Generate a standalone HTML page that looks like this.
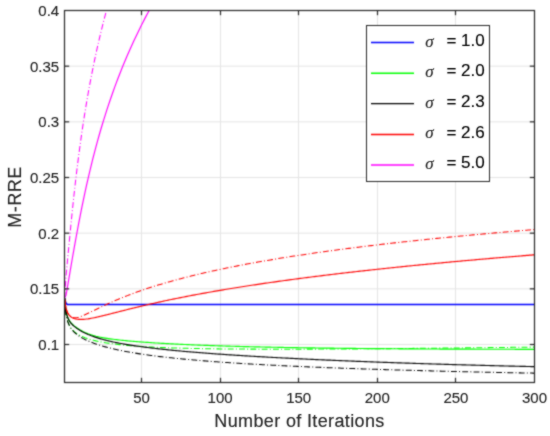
<!DOCTYPE html>
<html><head><meta charset="utf-8"><title>M-RRE vs Number of Iterations</title><style>html,body{margin:0;padding:0;background:#fff;width:550px;height:436px;overflow:hidden}svg{display:block}</style></head><body>
<svg width="550" height="436" viewBox="0 0 550 436"><defs><clipPath id="ax"><rect x="64.5" y="10.5" width="470.0" height="372.0"/></clipPath><filter id="soft" x="0" y="0" width="550" height="436" filterUnits="userSpaceOnUse" color-interpolation-filters="sRGB"><feConvolveMatrix order="3" kernelMatrix="1 2 1 2 10 2 1 2 1" divisor="22" edgeMode="duplicate"/></filter><filter id="softt" x="0" y="0" width="550" height="436" filterUnits="userSpaceOnUse" color-interpolation-filters="sRGB"><feConvolveMatrix order="3" kernelMatrix="1 2 1 2 16 2 1 2 1" divisor="28" edgeMode="duplicate"/></filter></defs>
<g filter="url(#soft)"><rect x="0" y="0" width="550" height="436" fill="#ffffff"/>
<g stroke="#e4e4e4" stroke-width="1"><line x1="141.50" y1="10.5" x2="141.50" y2="382.5"/><line x1="220.50" y1="10.5" x2="220.50" y2="382.5"/><line x1="298.50" y1="10.5" x2="298.50" y2="382.5"/><line x1="377.50" y1="10.5" x2="377.50" y2="382.5"/><line x1="455.50" y1="10.5" x2="455.50" y2="382.5"/><line x1="64.5" y1="344.50" x2="534.5" y2="344.50"/><line x1="64.5" y1="288.83" x2="534.5" y2="288.83"/><line x1="64.5" y1="233.17" x2="534.5" y2="233.17"/><line x1="64.5" y1="177.50" x2="534.5" y2="177.50"/><line x1="64.5" y1="121.83" x2="534.5" y2="121.83"/><line x1="64.5" y1="66.17" x2="534.5" y2="66.17"/></g>
<g clip-path="url(#ax)" stroke-linejoin="round"><path d="M64.50,298.00 66.07,303.60 67.64,304.50 69.22,304.50 70.79,304.50 72.36,304.50 73.93,304.50 75.50,304.50 77.08,304.50 78.65,304.50 80.22,304.50 81.79,304.50 83.36,304.50 84.93,304.50 86.51,304.50 88.08,304.50 89.65,304.50 91.22,304.50 92.79,304.50 94.37,304.50 95.94,304.50 97.51,304.50 99.08,304.50 100.65,304.50 102.23,304.50 103.80,304.50 105.37,304.50 106.94,304.50 108.51,304.50 110.09,304.50 111.66,304.50 113.23,304.50 114.80,304.50 116.37,304.50 117.94,304.50 119.52,304.50 121.09,304.50 122.66,304.50 124.23,304.50 125.80,304.50 127.38,304.50 128.95,304.50 130.52,304.50 132.09,304.50 133.66,304.50 135.24,304.50 136.81,304.50 138.38,304.50 139.95,304.50 141.52,304.50 143.10,304.50 144.67,304.50 146.24,304.50 147.81,304.50 149.38,304.50 150.95,304.50 152.53,304.50 154.10,304.50 155.67,304.50 157.24,304.50 158.81,304.50 160.39,304.50 161.96,304.50 163.53,304.50 165.10,304.50 166.67,304.50 168.25,304.50 169.82,304.50 171.39,304.50 172.96,304.50 174.53,304.50 176.11,304.50 177.68,304.50 179.25,304.50 180.82,304.50 182.39,304.50 183.96,304.50 185.54,304.50 187.11,304.50 188.68,304.50 190.25,304.50 191.82,304.50 193.40,304.50 194.97,304.50 196.54,304.50 198.11,304.50 199.68,304.50 201.26,304.50 202.83,304.50 204.40,304.50 205.97,304.50 207.54,304.50 209.12,304.50 210.69,304.50 212.26,304.50 213.83,304.50 215.40,304.50 216.97,304.50 218.55,304.50 220.12,304.50 221.69,304.50 223.26,304.50 224.83,304.50 226.41,304.50 227.98,304.50 229.55,304.50 231.12,304.50 232.69,304.50 234.27,304.50 235.84,304.50 237.41,304.50 238.98,304.50 240.55,304.50 242.13,304.50 243.70,304.50 245.27,304.50 246.84,304.50 248.41,304.50 249.98,304.50 251.56,304.50 253.13,304.50 254.70,304.50 256.27,304.50 257.84,304.50 259.42,304.50 260.99,304.50 262.56,304.50 264.13,304.50 265.70,304.50 267.28,304.50 268.85,304.50 270.42,304.50 271.99,304.50 273.56,304.50 275.14,304.50 276.71,304.50 278.28,304.50 279.85,304.50 281.42,304.50 282.99,304.50 284.57,304.50 286.14,304.50 287.71,304.50 289.28,304.50 290.85,304.50 292.43,304.50 294.00,304.50 295.57,304.50 297.14,304.50 298.71,304.50 300.29,304.50 301.86,304.50 303.43,304.50 305.00,304.50 306.57,304.50 308.15,304.50 309.72,304.50 311.29,304.50 312.86,304.50 314.43,304.50 316.01,304.50 317.58,304.50 319.15,304.50 320.72,304.50 322.29,304.50 323.86,304.50 325.44,304.50 327.01,304.50 328.58,304.50 330.15,304.50 331.72,304.50 333.30,304.50 334.87,304.50 336.44,304.50 338.01,304.50 339.58,304.50 341.16,304.50 342.73,304.50 344.30,304.50 345.87,304.50 347.44,304.50 349.02,304.50 350.59,304.50 352.16,304.50 353.73,304.50 355.30,304.50 356.87,304.50 358.45,304.50 360.02,304.50 361.59,304.50 363.16,304.50 364.73,304.50 366.31,304.50 367.88,304.50 369.45,304.50 371.02,304.50 372.59,304.50 374.17,304.50 375.74,304.50 377.31,304.50 378.88,304.50 380.45,304.50 382.03,304.50 383.60,304.50 385.17,304.50 386.74,304.50 388.31,304.50 389.88,304.50 391.46,304.50 393.03,304.50 394.60,304.50 396.17,304.50 397.74,304.50 399.32,304.50 400.89,304.50 402.46,304.50 404.03,304.50 405.60,304.50 407.18,304.50 408.75,304.50 410.32,304.50 411.89,304.50 413.46,304.50 415.04,304.50 416.61,304.50 418.18,304.50 419.75,304.50 421.32,304.50 422.89,304.50 424.47,304.50 426.04,304.50 427.61,304.50 429.18,304.50 430.75,304.50 432.33,304.50 433.90,304.50 435.47,304.50 437.04,304.50 438.61,304.50 440.19,304.50 441.76,304.50 443.33,304.50 444.90,304.50 446.47,304.50 448.05,304.50 449.62,304.50 451.19,304.50 452.76,304.50 454.33,304.50 455.90,304.50 457.48,304.50 459.05,304.50 460.62,304.50 462.19,304.50 463.76,304.50 465.34,304.50 466.91,304.50 468.48,304.50 470.05,304.50 471.62,304.50 473.20,304.50 474.77,304.50 476.34,304.50 477.91,304.50 479.48,304.50 481.06,304.50 482.63,304.50 484.20,304.50 485.77,304.50 487.34,304.50 488.91,304.50 490.49,304.50 492.06,304.50 493.63,304.50 495.20,304.50 496.77,304.50 498.35,304.50 499.92,304.50 501.49,304.50 503.06,304.50 504.63,304.50 506.21,304.50 507.78,304.50 509.35,304.50 510.92,304.50 512.49,304.50 514.07,304.50 515.64,304.50 517.21,304.50 518.78,304.50 520.35,304.50 521.92,304.50 523.50,304.50 525.07,304.50 526.64,304.50 528.21,304.50 529.78,304.50 531.36,304.50 532.93,304.50 534.50,304.50" fill="none" stroke="#0000ff" stroke-width="1.5"/>
<path d="M64.50,298.00 66.07,303.60 67.64,304.50 69.22,304.50 70.79,304.50 72.36,304.50 73.93,304.50 75.50,304.50 77.08,304.50 78.65,304.50 80.22,304.50 81.79,304.50 83.36,304.50 84.93,304.50 86.51,304.50 88.08,304.50 89.65,304.50 91.22,304.50 92.79,304.50 94.37,304.50 95.94,304.50 97.51,304.50 99.08,304.50 100.65,304.50 102.23,304.50 103.80,304.50 105.37,304.50 106.94,304.50 108.51,304.50 110.09,304.50 111.66,304.50 113.23,304.50 114.80,304.50 116.37,304.50 117.94,304.50 119.52,304.50 121.09,304.50 122.66,304.50 124.23,304.50 125.80,304.50 127.38,304.50 128.95,304.50 130.52,304.50 132.09,304.50 133.66,304.50 135.24,304.50 136.81,304.50 138.38,304.50 139.95,304.50 141.52,304.50 143.10,304.50 144.67,304.50 146.24,304.50 147.81,304.50 149.38,304.50 150.95,304.50 152.53,304.50 154.10,304.50 155.67,304.50 157.24,304.50 158.81,304.50 160.39,304.50 161.96,304.50 163.53,304.50 165.10,304.50 166.67,304.50 168.25,304.50 169.82,304.50 171.39,304.50 172.96,304.50 174.53,304.50 176.11,304.50 177.68,304.50 179.25,304.50 180.82,304.50 182.39,304.50 183.96,304.50 185.54,304.50 187.11,304.50 188.68,304.50 190.25,304.50 191.82,304.50 193.40,304.50 194.97,304.50 196.54,304.50 198.11,304.50 199.68,304.50 201.26,304.50 202.83,304.50 204.40,304.50 205.97,304.50 207.54,304.50 209.12,304.50 210.69,304.50 212.26,304.50 213.83,304.50 215.40,304.50 216.97,304.50 218.55,304.50 220.12,304.50 221.69,304.50 223.26,304.50 224.83,304.50 226.41,304.50 227.98,304.50 229.55,304.50 231.12,304.50 232.69,304.50 234.27,304.50 235.84,304.50 237.41,304.50 238.98,304.50 240.55,304.50 242.13,304.50 243.70,304.50 245.27,304.50 246.84,304.50 248.41,304.50 249.98,304.50 251.56,304.50 253.13,304.50 254.70,304.50 256.27,304.50 257.84,304.50 259.42,304.50 260.99,304.50 262.56,304.50 264.13,304.50 265.70,304.50 267.28,304.50 268.85,304.50 270.42,304.50 271.99,304.50 273.56,304.50 275.14,304.50 276.71,304.50 278.28,304.50 279.85,304.50 281.42,304.50 282.99,304.50 284.57,304.50 286.14,304.50 287.71,304.50 289.28,304.50 290.85,304.50 292.43,304.50 294.00,304.50 295.57,304.50 297.14,304.50 298.71,304.50 300.29,304.50 301.86,304.50 303.43,304.50 305.00,304.50 306.57,304.50 308.15,304.50 309.72,304.50 311.29,304.50 312.86,304.50 314.43,304.50 316.01,304.50 317.58,304.50 319.15,304.50 320.72,304.50 322.29,304.50 323.86,304.50 325.44,304.50 327.01,304.50 328.58,304.50 330.15,304.50 331.72,304.50 333.30,304.50 334.87,304.50 336.44,304.50 338.01,304.50 339.58,304.50 341.16,304.50 342.73,304.50 344.30,304.50 345.87,304.50 347.44,304.50 349.02,304.50 350.59,304.50 352.16,304.50 353.73,304.50 355.30,304.50 356.87,304.50 358.45,304.50 360.02,304.50 361.59,304.50 363.16,304.50 364.73,304.50 366.31,304.50 367.88,304.50 369.45,304.50 371.02,304.50 372.59,304.50 374.17,304.50 375.74,304.50 377.31,304.50 378.88,304.50 380.45,304.50 382.03,304.50 383.60,304.50 385.17,304.50 386.74,304.50 388.31,304.50 389.88,304.50 391.46,304.50 393.03,304.50 394.60,304.50 396.17,304.50 397.74,304.50 399.32,304.50 400.89,304.50 402.46,304.50 404.03,304.50 405.60,304.50 407.18,304.50 408.75,304.50 410.32,304.50 411.89,304.50 413.46,304.50 415.04,304.50 416.61,304.50 418.18,304.50 419.75,304.50 421.32,304.50 422.89,304.50 424.47,304.50 426.04,304.50 427.61,304.50 429.18,304.50 430.75,304.50 432.33,304.50 433.90,304.50 435.47,304.50 437.04,304.50 438.61,304.50 440.19,304.50 441.76,304.50 443.33,304.50 444.90,304.50 446.47,304.50 448.05,304.50 449.62,304.50 451.19,304.50 452.76,304.50 454.33,304.50 455.90,304.50 457.48,304.50 459.05,304.50 460.62,304.50 462.19,304.50 463.76,304.50 465.34,304.50 466.91,304.50 468.48,304.50 470.05,304.50 471.62,304.50 473.20,304.50 474.77,304.50 476.34,304.50 477.91,304.50 479.48,304.50 481.06,304.50 482.63,304.50 484.20,304.50 485.77,304.50 487.34,304.50 488.91,304.50 490.49,304.50 492.06,304.50 493.63,304.50 495.20,304.50 496.77,304.50 498.35,304.50 499.92,304.50 501.49,304.50 503.06,304.50 504.63,304.50 506.21,304.50 507.78,304.50 509.35,304.50 510.92,304.50 512.49,304.50 514.07,304.50 515.64,304.50 517.21,304.50 518.78,304.50 520.35,304.50 521.92,304.50 523.50,304.50 525.07,304.50 526.64,304.50 528.21,304.50 529.78,304.50 531.36,304.50 532.93,304.50 534.50,304.50" fill="none" stroke="#0000ff" stroke-width="1.05" stroke-dasharray="5.9 2.2 1.0 2.2"/>
<path d="M64.50,298.00 66.07,311.99 67.64,317.37 69.22,320.43 70.79,322.54 72.36,324.20 73.93,325.60 75.50,326.84 77.08,327.98 78.65,329.03 80.22,329.99 81.79,330.87 83.36,331.68 84.93,332.42 86.51,333.10 88.08,333.73 89.65,334.31 91.22,334.84 92.79,335.33 94.37,335.78 95.94,336.20 97.51,336.58 99.08,336.94 100.65,337.27 102.23,337.58 103.80,337.86 105.37,338.13 106.94,338.39 108.51,338.63 110.09,338.86 111.66,339.08 113.23,339.29 114.80,339.48 116.37,339.67 117.94,339.86 119.52,340.03 121.09,340.20 122.66,340.36 124.23,340.52 125.80,340.67 127.38,340.82 128.95,340.96 130.52,341.10 132.09,341.23 133.66,341.37 135.24,341.50 136.81,341.62 138.38,341.75 139.95,341.87 141.52,341.98 143.10,342.10 144.67,342.21 146.24,342.32 147.81,342.43 149.38,342.54 150.95,342.65 152.53,342.75 154.10,342.85 155.67,342.95 157.24,343.05 158.81,343.15 160.39,343.24 161.96,343.33 163.53,343.42 165.10,343.51 166.67,343.60 168.25,343.69 169.82,343.77 171.39,343.86 172.96,343.94 174.53,344.02 176.11,344.10 177.68,344.18 179.25,344.25 180.82,344.33 182.39,344.40 183.96,344.48 185.54,344.55 187.11,344.62 188.68,344.69 190.25,344.76 191.82,344.83 193.40,344.89 194.97,344.96 196.54,345.02 198.11,345.08 199.68,345.15 201.26,345.21 202.83,345.27 204.40,345.33 205.97,345.39 207.54,345.44 209.12,345.50 210.69,345.56 212.26,345.61 213.83,345.66 215.40,345.72 216.97,345.77 218.55,345.82 220.12,345.87 221.69,345.92 223.26,345.97 224.83,346.02 226.41,346.07 227.98,346.12 229.55,346.16 231.12,346.21 232.69,346.26 234.27,346.30 235.84,346.35 237.41,346.39 238.98,346.43 240.55,346.47 242.13,346.52 243.70,346.56 245.27,346.60 246.84,346.64 248.41,346.68 249.98,346.72 251.56,346.75 253.13,346.79 254.70,346.83 256.27,346.87 257.84,346.90 259.42,346.94 260.99,346.97 262.56,347.01 264.13,347.04 265.70,347.08 267.28,347.11 268.85,347.14 270.42,347.18 271.99,347.21 273.56,347.24 275.14,347.27 276.71,347.30 278.28,347.33 279.85,347.36 281.42,347.39 282.99,347.42 284.57,347.45 286.14,347.48 287.71,347.51 289.28,347.54 290.85,347.56 292.43,347.59 294.00,347.62 295.57,347.65 297.14,347.67 298.71,347.70 300.29,347.72 301.86,347.75 303.43,347.77 305.00,347.80 306.57,347.82 308.15,347.85 309.72,347.87 311.29,347.89 312.86,347.92 314.43,347.94 316.01,347.96 317.58,347.98 319.15,348.00 320.72,348.03 322.29,348.05 323.86,348.07 325.44,348.09 327.01,348.11 328.58,348.13 330.15,348.15 331.72,348.17 333.30,348.19 334.87,348.21 336.44,348.23 338.01,348.25 339.58,348.26 341.16,348.28 342.73,348.30 344.30,348.32 345.87,348.34 347.44,348.35 349.02,348.37 350.59,348.39 352.16,348.40 353.73,348.42 355.30,348.44 356.87,348.45 358.45,348.47 360.02,348.48 361.59,348.50 363.16,348.51 364.73,348.53 366.31,348.54 367.88,348.56 369.45,348.57 371.02,348.59 372.59,348.60 374.17,348.62 375.74,348.63 377.31,348.64 378.88,348.66 380.45,348.67 382.03,348.68 383.60,348.69 385.17,348.71 386.74,348.72 388.31,348.73 389.88,348.74 391.46,348.76 393.03,348.77 394.60,348.78 396.17,348.79 397.74,348.80 399.32,348.81 400.89,348.82 402.46,348.84 404.03,348.85 405.60,348.86 407.18,348.87 408.75,348.88 410.32,348.89 411.89,348.90 413.46,348.91 415.04,348.92 416.61,348.93 418.18,348.94 419.75,348.95 421.32,348.95 422.89,348.96 424.47,348.97 426.04,348.98 427.61,348.99 429.18,349.00 430.75,349.01 432.33,349.02 433.90,349.02 435.47,349.03 437.04,349.04 438.61,349.05 440.19,349.05 441.76,349.06 443.33,349.07 444.90,349.08 446.47,349.08 448.05,349.09 449.62,349.10 451.19,349.11 452.76,349.11 454.33,349.12 455.90,349.13 457.48,349.13 459.05,349.14 460.62,349.14 462.19,349.15 463.76,349.16 465.34,349.16 466.91,349.17 468.48,349.17 470.05,349.18 471.62,349.18 473.20,349.19 474.77,349.19 476.34,349.20 477.91,349.21 479.48,349.21 481.06,349.22 482.63,349.22 484.20,349.22 485.77,349.23 487.34,349.23 488.91,349.24 490.49,349.24 492.06,349.25 493.63,349.25 495.20,349.26 496.77,349.26 498.35,349.26 499.92,349.27 501.49,349.27 503.06,349.27 504.63,349.28 506.21,349.28 507.78,349.28 509.35,349.29 510.92,349.29 512.49,349.29 514.07,349.30 515.64,349.30 517.21,349.30 518.78,349.31 520.35,349.31 521.92,349.31 523.50,349.31 525.07,349.32 526.64,349.32 528.21,349.32 529.78,349.32 531.36,349.33 532.93,349.33 534.50,349.33" fill="none" stroke="#00ff00" stroke-width="1.15"/>
<path d="M64.50,298.00 66.07,315.51 67.64,321.22 69.22,325.05 70.79,327.82 72.36,329.88 73.93,331.49 75.50,332.80 77.08,333.89 78.65,334.84 80.22,335.67 81.79,336.40 83.36,337.07 84.93,337.68 86.51,338.24 88.08,338.76 89.65,339.24 91.22,339.69 92.79,340.11 94.37,340.50 95.94,340.88 97.51,341.22 99.08,341.55 100.65,341.87 102.23,342.16 103.80,342.44 105.37,342.71 106.94,342.96 108.51,343.20 110.09,343.43 111.66,343.65 113.23,343.86 114.80,344.06 116.37,344.25 117.94,344.44 119.52,344.61 121.09,344.78 122.66,344.94 124.23,345.10 125.80,345.25 127.38,345.39 128.95,345.53 130.52,345.66 132.09,345.79 133.66,345.91 135.24,346.03 136.81,346.14 138.38,346.25 139.95,346.36 141.52,346.46 143.10,346.56 144.67,346.66 146.24,346.75 147.81,346.84 149.38,346.92 150.95,347.01 152.53,347.09 154.10,347.17 155.67,347.24 157.24,347.31 158.81,347.38 160.39,347.45 161.96,347.52 163.53,347.58 165.10,347.64 166.67,347.70 168.25,347.76 169.82,347.82 171.39,347.87 172.96,347.92 174.53,347.97 176.11,348.02 177.68,348.07 179.25,348.12 180.82,348.16 182.39,348.20 183.96,348.25 185.54,348.29 187.11,348.32 188.68,348.36 190.25,348.40 191.82,348.43 193.40,348.47 194.97,348.50 196.54,348.53 198.11,348.56 199.68,348.59 201.26,348.62 202.83,348.65 204.40,348.68 205.97,348.70 207.54,348.73 209.12,348.75 210.69,348.77 212.26,348.80 213.83,348.82 215.40,348.84 216.97,348.86 218.55,348.88 220.12,348.90 221.69,348.91 223.26,348.93 224.83,348.95 226.41,348.96 227.98,348.98 229.55,348.99 231.12,349.01 232.69,349.02 234.27,349.03 235.84,349.04 237.41,349.05 238.98,349.06 240.55,349.07 242.13,349.08 243.70,349.09 245.27,349.10 246.84,349.11 248.41,349.12 249.98,349.13 251.56,349.13 253.13,349.14 254.70,349.14 256.27,349.15 257.84,349.15 259.42,349.16 260.99,349.16 262.56,349.17 264.13,349.17 265.70,349.17 267.28,349.17 268.85,349.18 270.42,349.18 271.99,349.18 273.56,349.18 275.14,349.18 276.71,349.18 278.28,349.18 279.85,349.18 281.42,349.18 282.99,349.18 284.57,349.18 286.14,349.18 287.71,349.17 289.28,349.17 290.85,349.17 292.43,349.17 294.00,349.16 295.57,349.16 297.14,349.16 298.71,349.15 300.29,349.15 301.86,349.15 303.43,349.14 305.00,349.14 306.57,349.13 308.15,349.13 309.72,349.12 311.29,349.11 312.86,349.11 314.43,349.10 316.01,349.10 317.58,349.09 319.15,349.08 320.72,349.08 322.29,349.07 323.86,349.06 325.44,349.05 327.01,349.05 328.58,349.04 330.15,349.03 331.72,349.02 333.30,349.01 334.87,349.00 336.44,348.99 338.01,348.99 339.58,348.98 341.16,348.97 342.73,348.96 344.30,348.95 345.87,348.94 347.44,348.93 349.02,348.92 350.59,348.91 352.16,348.90 353.73,348.89 355.30,348.88 356.87,348.86 358.45,348.85 360.02,348.84 361.59,348.83 363.16,348.82 364.73,348.81 366.31,348.80 367.88,348.78 369.45,348.77 371.02,348.76 372.59,348.75 374.17,348.74 375.74,348.72 377.31,348.71 378.88,348.70 380.45,348.69 382.03,348.67 383.60,348.66 385.17,348.65 386.74,348.63 388.31,348.62 389.88,348.61 391.46,348.59 393.03,348.58 394.60,348.57 396.17,348.55 397.74,348.54 399.32,348.52 400.89,348.51 402.46,348.50 404.03,348.48 405.60,348.47 407.18,348.45 408.75,348.44 410.32,348.42 411.89,348.41 413.46,348.39 415.04,348.38 416.61,348.36 418.18,348.35 419.75,348.33 421.32,348.32 422.89,348.30 424.47,348.29 426.04,348.27 427.61,348.26 429.18,348.24 430.75,348.23 432.33,348.21 433.90,348.20 435.47,348.18 437.04,348.16 438.61,348.15 440.19,348.13 441.76,348.12 443.33,348.10 444.90,348.08 446.47,348.07 448.05,348.05 449.62,348.04 451.19,348.02 452.76,348.00 454.33,347.99 455.90,347.97 457.48,347.95 459.05,347.94 460.62,347.92 462.19,347.90 463.76,347.89 465.34,347.87 466.91,347.85 468.48,347.84 470.05,347.82 471.62,347.80 473.20,347.78 474.77,347.77 476.34,347.75 477.91,347.73 479.48,347.72 481.06,347.70 482.63,347.68 484.20,347.66 485.77,347.65 487.34,347.63 488.91,347.61 490.49,347.59 492.06,347.58 493.63,347.56 495.20,347.54 496.77,347.52 498.35,347.51 499.92,347.49 501.49,347.47 503.06,347.45 504.63,347.43 506.21,347.42 507.78,347.40 509.35,347.38 510.92,347.36 512.49,347.34 514.07,347.33 515.64,347.31 517.21,347.29 518.78,347.27 520.35,347.25 521.92,347.24 523.50,347.22 525.07,347.20 526.64,347.18 528.21,347.16 529.78,347.14 531.36,347.12 532.93,347.11 534.50,347.09" fill="none" stroke="#00ff00" stroke-width="1.05" stroke-dasharray="5.9 2.2 1.0 2.2"/>
<path d="M64.50,298.00 66.07,312.06 67.64,317.61 69.22,320.79 70.79,322.99 72.36,324.70 73.93,326.13 75.50,327.38 77.08,328.52 78.65,329.56 80.22,330.53 81.79,331.42 83.36,332.25 84.93,333.03 86.51,333.76 88.08,334.45 89.65,335.09 91.22,335.71 92.79,336.29 94.37,336.85 95.94,337.38 97.51,337.88 99.08,338.36 100.65,338.83 102.23,339.27 103.80,339.70 105.37,340.11 106.94,340.50 108.51,340.88 110.09,341.25 111.66,341.60 113.23,341.94 114.80,342.28 116.37,342.60 117.94,342.91 119.52,343.21 121.09,343.50 122.66,343.79 124.23,344.07 125.80,344.34 127.38,344.60 128.95,344.86 130.52,345.11 132.09,345.35 133.66,345.59 135.24,345.83 136.81,346.06 138.38,346.28 139.95,346.50 141.52,346.72 143.10,346.93 144.67,347.13 146.24,347.34 147.81,347.54 149.38,347.73 150.95,347.92 152.53,348.11 154.10,348.30 155.67,348.48 157.24,348.66 158.81,348.84 160.39,349.01 161.96,349.18 163.53,349.35 165.10,349.52 166.67,349.68 168.25,349.84 169.82,350.00 171.39,350.16 172.96,350.31 174.53,350.46 176.11,350.61 177.68,350.76 179.25,350.91 180.82,351.05 182.39,351.20 183.96,351.34 185.54,351.48 187.11,351.61 188.68,351.75 190.25,351.88 191.82,352.02 193.40,352.15 194.97,352.28 196.54,352.41 198.11,352.53 199.68,352.66 201.26,352.78 202.83,352.91 204.40,353.03 205.97,353.15 207.54,353.27 209.12,353.39 210.69,353.51 212.26,353.62 213.83,353.74 215.40,353.85 216.97,353.96 218.55,354.07 220.12,354.18 221.69,354.29 223.26,354.40 224.83,354.51 226.41,354.62 227.98,354.72 229.55,354.83 231.12,354.93 232.69,355.03 234.27,355.14 235.84,355.24 237.41,355.34 238.98,355.44 240.55,355.54 242.13,355.64 243.70,355.73 245.27,355.83 246.84,355.93 248.41,356.02 249.98,356.12 251.56,356.21 253.13,356.30 254.70,356.39 256.27,356.49 257.84,356.58 259.42,356.67 260.99,356.76 262.56,356.85 264.13,356.93 265.70,357.02 267.28,357.11 268.85,357.20 270.42,357.28 271.99,357.37 273.56,357.45 275.14,357.54 276.71,357.62 278.28,357.71 279.85,357.79 281.42,357.87 282.99,357.95 284.57,358.03 286.14,358.11 287.71,358.19 289.28,358.27 290.85,358.35 292.43,358.43 294.00,358.51 295.57,358.59 297.14,358.67 298.71,358.74 300.29,358.82 301.86,358.90 303.43,358.97 305.00,359.05 306.57,359.12 308.15,359.20 309.72,359.27 311.29,359.34 312.86,359.42 314.43,359.49 316.01,359.56 317.58,359.63 319.15,359.71 320.72,359.78 322.29,359.85 323.86,359.92 325.44,359.99 327.01,360.06 328.58,360.13 330.15,360.19 331.72,360.26 333.30,360.33 334.87,360.40 336.44,360.47 338.01,360.53 339.58,360.60 341.16,360.67 342.73,360.73 344.30,360.80 345.87,360.86 347.44,360.93 349.02,360.99 350.59,361.05 352.16,361.12 353.73,361.18 355.30,361.24 356.87,361.31 358.45,361.37 360.02,361.43 361.59,361.49 363.16,361.55 364.73,361.61 366.31,361.68 367.88,361.74 369.45,361.80 371.02,361.85 372.59,361.91 374.17,361.97 375.74,362.03 377.31,362.09 378.88,362.15 380.45,362.21 382.03,362.26 383.60,362.32 385.17,362.38 386.74,362.43 388.31,362.49 389.88,362.55 391.46,362.60 393.03,362.66 394.60,362.71 396.17,362.77 397.74,362.82 399.32,362.88 400.89,362.93 402.46,362.98 404.03,363.04 405.60,363.09 407.18,363.14 408.75,363.19 410.32,363.25 411.89,363.30 413.46,363.35 415.04,363.40 416.61,363.45 418.18,363.50 419.75,363.55 421.32,363.60 422.89,363.66 424.47,363.71 426.04,363.75 427.61,363.80 429.18,363.85 430.75,363.90 432.33,363.95 433.90,364.00 435.47,364.05 437.04,364.10 438.61,364.14 440.19,364.19 441.76,364.24 443.33,364.28 444.90,364.33 446.47,364.38 448.05,364.42 449.62,364.47 451.19,364.52 452.76,364.56 454.33,364.61 455.90,364.65 457.48,364.70 459.05,364.74 460.62,364.79 462.19,364.83 463.76,364.87 465.34,364.92 466.91,364.96 468.48,365.01 470.05,365.05 471.62,365.09 473.20,365.13 474.77,365.18 476.34,365.22 477.91,365.26 479.48,365.30 481.06,365.35 482.63,365.39 484.20,365.43 485.77,365.47 487.34,365.51 488.91,365.55 490.49,365.59 492.06,365.63 493.63,365.67 495.20,365.71 496.77,365.75 498.35,365.79 499.92,365.83 501.49,365.87 503.06,365.91 504.63,365.95 506.21,365.99 507.78,366.03 509.35,366.06 510.92,366.10 512.49,366.14 514.07,366.18 515.64,366.22 517.21,366.25 518.78,366.29 520.35,366.33 521.92,366.36 523.50,366.40 525.07,366.44 526.64,366.47 528.21,366.51 529.78,366.55 531.36,366.58 532.93,366.62 534.50,366.65" fill="none" stroke="#000000" stroke-width="1.15"/>
<path d="M64.50,298.00 66.07,314.92 67.64,321.50 69.22,325.31 70.79,327.99 72.36,330.07 73.93,331.78 75.50,333.25 77.08,334.54 78.65,335.70 80.22,336.75 81.79,337.71 83.36,338.59 84.93,339.42 86.51,340.18 88.08,340.91 89.65,341.59 91.22,342.23 92.79,342.84 94.37,343.42 95.94,343.98 97.51,344.51 99.08,345.02 100.65,345.52 102.23,345.99 103.80,346.44 105.37,346.88 106.94,347.30 108.51,347.71 110.09,348.11 111.66,348.49 113.23,348.86 114.80,349.22 116.37,349.57 117.94,349.91 119.52,350.24 121.09,350.57 122.66,350.88 124.23,351.18 125.80,351.48 127.38,351.77 128.95,352.05 130.52,352.33 132.09,352.60 133.66,352.86 135.24,353.12 136.81,353.37 138.38,353.62 139.95,353.86 141.52,354.10 143.10,354.33 144.67,354.56 146.24,354.78 147.81,355.00 149.38,355.21 150.95,355.42 152.53,355.63 154.10,355.83 155.67,356.03 157.24,356.23 158.81,356.42 160.39,356.61 161.96,356.79 163.53,356.98 165.10,357.16 166.67,357.33 168.25,357.51 169.82,357.68 171.39,357.85 172.96,358.01 174.53,358.18 176.11,358.34 177.68,358.49 179.25,358.65 180.82,358.81 182.39,358.96 183.96,359.11 185.54,359.25 187.11,359.40 188.68,359.54 190.25,359.68 191.82,359.82 193.40,359.96 194.97,360.10 196.54,360.23 198.11,360.36 199.68,360.49 201.26,360.62 202.83,360.75 204.40,360.88 205.97,361.00 207.54,361.13 209.12,361.25 210.69,361.37 212.26,361.49 213.83,361.60 215.40,361.72 216.97,361.83 218.55,361.95 220.12,362.06 221.69,362.17 223.26,362.28 224.83,362.39 226.41,362.49 227.98,362.60 229.55,362.70 231.12,362.81 232.69,362.91 234.27,363.01 235.84,363.11 237.41,363.21 238.98,363.31 240.55,363.41 242.13,363.50 243.70,363.60 245.27,363.70 246.84,363.79 248.41,363.88 249.98,363.97 251.56,364.06 253.13,364.15 254.70,364.24 256.27,364.33 257.84,364.42 259.42,364.51 260.99,364.59 262.56,364.68 264.13,364.76 265.70,364.85 267.28,364.93 268.85,365.01 270.42,365.09 271.99,365.17 273.56,365.25 275.14,365.33 276.71,365.41 278.28,365.49 279.85,365.57 281.42,365.64 282.99,365.72 284.57,365.79 286.14,365.87 287.71,365.94 289.28,366.02 290.85,366.09 292.43,366.16 294.00,366.23 295.57,366.31 297.14,366.38 298.71,366.45 300.29,366.52 301.86,366.58 303.43,366.65 305.00,366.72 306.57,366.79 308.15,366.86 309.72,366.92 311.29,366.99 312.86,367.05 314.43,367.12 316.01,367.18 317.58,367.25 319.15,367.31 320.72,367.37 322.29,367.43 323.86,367.50 325.44,367.56 327.01,367.62 328.58,367.68 330.15,367.74 331.72,367.80 333.30,367.86 334.87,367.92 336.44,367.98 338.01,368.04 339.58,368.09 341.16,368.15 342.73,368.21 344.30,368.26 345.87,368.32 347.44,368.38 349.02,368.43 350.59,368.49 352.16,368.54 353.73,368.60 355.30,368.65 356.87,368.70 358.45,368.76 360.02,368.81 361.59,368.86 363.16,368.92 364.73,368.97 366.31,369.02 367.88,369.07 369.45,369.12 371.02,369.17 372.59,369.22 374.17,369.27 375.74,369.32 377.31,369.37 378.88,369.42 380.45,369.47 382.03,369.52 383.60,369.57 385.17,369.61 386.74,369.66 388.31,369.71 389.88,369.76 391.46,369.80 393.03,369.85 394.60,369.90 396.17,369.94 397.74,369.99 399.32,370.03 400.89,370.08 402.46,370.12 404.03,370.17 405.60,370.21 407.18,370.26 408.75,370.30 410.32,370.34 411.89,370.39 413.46,370.43 415.04,370.47 416.61,370.52 418.18,370.56 419.75,370.60 421.32,370.64 422.89,370.68 424.47,370.72 426.04,370.77 427.61,370.81 429.18,370.85 430.75,370.89 432.33,370.93 433.90,370.97 435.47,371.01 437.04,371.05 438.61,371.09 440.19,371.13 441.76,371.17 443.33,371.21 444.90,371.24 446.47,371.28 448.05,371.32 449.62,371.36 451.19,371.40 452.76,371.43 454.33,371.47 455.90,371.51 457.48,371.55 459.05,371.58 460.62,371.62 462.19,371.66 463.76,371.69 465.34,371.73 466.91,371.76 468.48,371.80 470.05,371.84 471.62,371.87 473.20,371.91 474.77,371.94 476.34,371.98 477.91,372.01 479.48,372.05 481.06,372.08 482.63,372.11 484.20,372.15 485.77,372.18 487.34,372.22 488.91,372.25 490.49,372.28 492.06,372.32 493.63,372.35 495.20,372.38 496.77,372.41 498.35,372.45 499.92,372.48 501.49,372.51 503.06,372.54 504.63,372.58 506.21,372.61 507.78,372.64 509.35,372.67 510.92,372.70 512.49,372.73 514.07,372.76 515.64,372.79 517.21,372.83 518.78,372.86 520.35,372.89 521.92,372.92 523.50,372.95 525.07,372.98 526.64,373.01 528.21,373.04 529.78,373.07 531.36,373.10 532.93,373.13 534.50,373.16" fill="none" stroke="#000000" stroke-width="1.05" stroke-dasharray="5.9 2.2 1.0 2.2"/>
<path d="M64.50,298.00 66.07,308.51 67.64,312.89 69.22,315.29 70.79,316.78 72.36,317.77 73.93,318.45 75.50,318.91 77.08,319.20 78.65,319.37 80.22,319.44 81.79,319.42 83.36,319.35 84.93,319.21 86.51,319.03 88.08,318.82 89.65,318.57 91.22,318.30 92.79,318.01 94.37,317.69 95.94,317.36 97.51,317.02 99.08,316.66 100.65,316.29 102.23,315.92 103.80,315.53 105.37,315.14 106.94,314.75 108.51,314.35 110.09,313.96 111.66,313.56 113.23,313.15 114.80,312.75 116.37,312.35 117.94,311.95 119.52,311.55 121.09,311.15 122.66,310.75 124.23,310.35 125.80,309.96 127.38,309.56 128.95,309.17 130.52,308.78 132.09,308.39 133.66,308.01 135.24,307.62 136.81,307.24 138.38,306.86 139.95,306.49 141.52,306.11 143.10,305.74 144.67,305.38 146.24,305.01 147.81,304.65 149.38,304.28 150.95,303.93 152.53,303.57 154.10,303.22 155.67,302.86 157.24,302.52 158.81,302.17 160.39,301.83 161.96,301.48 163.53,301.15 165.10,300.81 166.67,300.47 168.25,300.14 169.82,299.81 171.39,299.49 172.96,299.16 174.53,298.84 176.11,298.52 177.68,298.20 179.25,297.88 180.82,297.57 182.39,297.26 183.96,296.95 185.54,296.64 187.11,296.33 188.68,296.03 190.25,295.73 191.82,295.43 193.40,295.13 194.97,294.83 196.54,294.54 198.11,294.25 199.68,293.96 201.26,293.67 202.83,293.38 204.40,293.10 205.97,292.81 207.54,292.53 209.12,292.25 210.69,291.97 212.26,291.70 213.83,291.42 215.40,291.15 216.97,290.88 218.55,290.61 220.12,290.34 221.69,290.07 223.26,289.81 224.83,289.55 226.41,289.28 227.98,289.02 229.55,288.76 231.12,288.51 232.69,288.25 234.27,288.00 235.84,287.74 237.41,287.49 238.98,287.24 240.55,286.99 242.13,286.74 243.70,286.50 245.27,286.25 246.84,286.01 248.41,285.77 249.98,285.53 251.56,285.29 253.13,285.05 254.70,284.81 256.27,284.57 257.84,284.34 259.42,284.11 260.99,283.87 262.56,283.64 264.13,283.41 265.70,283.18 267.28,282.96 268.85,282.73 270.42,282.50 271.99,282.28 273.56,282.06 275.14,281.83 276.71,281.61 278.28,281.39 279.85,281.17 281.42,280.95 282.99,280.74 284.57,280.52 286.14,280.31 287.71,280.09 289.28,279.88 290.85,279.67 292.43,279.46 294.00,279.25 295.57,279.04 297.14,278.83 298.71,278.62 300.29,278.42 301.86,278.21 303.43,278.01 305.00,277.80 306.57,277.60 308.15,277.40 309.72,277.20 311.29,277.00 312.86,276.80 314.43,276.60 316.01,276.40 317.58,276.21 319.15,276.01 320.72,275.82 322.29,275.62 323.86,275.43 325.44,275.23 327.01,275.04 328.58,274.85 330.15,274.66 331.72,274.47 333.30,274.28 334.87,274.10 336.44,273.91 338.01,273.72 339.58,273.54 341.16,273.35 342.73,273.17 344.30,272.98 345.87,272.80 347.44,272.62 349.02,272.44 350.59,272.26 352.16,272.08 353.73,271.90 355.30,271.72 356.87,271.54 358.45,271.37 360.02,271.19 361.59,271.01 363.16,270.84 364.73,270.66 366.31,270.49 367.88,270.32 369.45,270.14 371.02,269.97 372.59,269.80 374.17,269.63 375.74,269.46 377.31,269.29 378.88,269.12 380.45,268.95 382.03,268.78 383.60,268.62 385.17,268.45 386.74,268.28 388.31,268.12 389.88,267.95 391.46,267.79 393.03,267.63 394.60,267.46 396.17,267.30 397.74,267.14 399.32,266.98 400.89,266.82 402.46,266.66 404.03,266.50 405.60,266.34 407.18,266.18 408.75,266.02 410.32,265.86 411.89,265.71 413.46,265.55 415.04,265.39 416.61,265.24 418.18,265.08 419.75,264.93 421.32,264.77 422.89,264.62 424.47,264.47 426.04,264.31 427.61,264.16 429.18,264.01 430.75,263.86 432.33,263.71 433.90,263.56 435.47,263.41 437.04,263.26 438.61,263.11 440.19,262.96 441.76,262.81 443.33,262.67 444.90,262.52 446.47,262.37 448.05,262.23 449.62,262.08 451.19,261.94 452.76,261.79 454.33,261.65 455.90,261.50 457.48,261.36 459.05,261.22 460.62,261.07 462.19,260.93 463.76,260.79 465.34,260.65 466.91,260.51 468.48,260.37 470.05,260.23 471.62,260.09 473.20,259.95 474.77,259.81 476.34,259.67 477.91,259.53 479.48,259.40 481.06,259.26 482.63,259.12 484.20,258.98 485.77,258.85 487.34,258.71 488.91,258.58 490.49,258.44 492.06,258.31 493.63,258.17 495.20,258.04 496.77,257.91 498.35,257.77 499.92,257.64 501.49,257.51 503.06,257.38 504.63,257.24 506.21,257.11 507.78,256.98 509.35,256.85 510.92,256.72 512.49,256.59 514.07,256.46 515.64,256.33 517.21,256.20 518.78,256.07 520.35,255.95 521.92,255.82 523.50,255.69 525.07,255.56 526.64,255.44 528.21,255.31 529.78,255.18 531.36,255.06 532.93,254.93 534.50,254.81" fill="none" stroke="#ff0000" stroke-width="1.15"/>
<path d="M64.50,298.00 66.07,308.69 67.64,312.93 69.22,315.21 70.79,316.60 72.36,317.40 73.93,317.77 75.50,317.80 77.08,317.59 78.65,317.20 80.22,316.70 81.79,316.11 83.36,315.46 84.93,314.76 86.51,314.04 88.08,313.30 89.65,312.54 91.22,311.77 92.79,311.00 94.37,310.23 95.94,309.47 97.51,308.70 99.08,307.94 100.65,307.18 102.23,306.43 103.80,305.69 105.37,304.96 106.94,304.24 108.51,303.52 110.09,302.81 111.66,302.11 113.23,301.43 114.80,300.74 116.37,300.07 117.94,299.41 119.52,298.76 121.09,298.11 122.66,297.48 124.23,296.85 125.80,296.23 127.38,295.62 128.95,295.01 130.52,294.42 132.09,293.83 133.66,293.25 135.24,292.68 136.81,292.11 138.38,291.55 139.95,291.00 141.52,290.45 143.10,289.91 144.67,289.38 146.24,288.86 147.81,288.34 149.38,287.82 150.95,287.32 152.53,286.81 154.10,286.32 155.67,285.83 157.24,285.34 158.81,284.86 160.39,284.39 161.96,283.92 163.53,283.45 165.10,282.99 166.67,282.54 168.25,282.09 169.82,281.65 171.39,281.20 172.96,280.77 174.53,280.34 176.11,279.91 177.68,279.49 179.25,279.07 180.82,278.65 182.39,278.24 183.96,277.83 185.54,277.43 187.11,277.03 188.68,276.63 190.25,276.24 191.82,275.85 193.40,275.47 194.97,275.09 196.54,274.71 198.11,274.33 199.68,273.96 201.26,273.59 202.83,273.23 204.40,272.86 205.97,272.50 207.54,272.15 209.12,271.79 210.69,271.44 212.26,271.10 213.83,270.75 215.40,270.41 216.97,270.07 218.55,269.73 220.12,269.40 221.69,269.07 223.26,268.74 224.83,268.41 226.41,268.09 227.98,267.77 229.55,267.45 231.12,267.13 232.69,266.82 234.27,266.51 235.84,266.20 237.41,265.89 238.98,265.59 240.55,265.28 242.13,264.98 243.70,264.68 245.27,264.39 246.84,264.09 248.41,263.80 249.98,263.51 251.56,263.22 253.13,262.93 254.70,262.65 256.27,262.37 257.84,262.09 259.42,261.81 260.99,261.53 262.56,261.26 264.13,260.98 265.70,260.71 267.28,260.44 268.85,260.17 270.42,259.90 271.99,259.64 273.56,259.38 275.14,259.12 276.71,258.86 278.28,258.60 279.85,258.34 281.42,258.08 282.99,257.83 284.57,257.58 286.14,257.33 287.71,257.08 289.28,256.83 290.85,256.58 292.43,256.34 294.00,256.10 295.57,255.85 297.14,255.61 298.71,255.37 300.29,255.14 301.86,254.90 303.43,254.66 305.00,254.43 306.57,254.20 308.15,253.97 309.72,253.74 311.29,253.51 312.86,253.28 314.43,253.05 316.01,252.83 317.58,252.60 319.15,252.38 320.72,252.16 322.29,251.94 323.86,251.72 325.44,251.50 327.01,251.29 328.58,251.07 330.15,250.85 331.72,250.64 333.30,250.43 334.87,250.22 336.44,250.01 338.01,249.80 339.58,249.59 341.16,249.38 342.73,249.18 344.30,248.97 345.87,248.77 347.44,248.56 349.02,248.36 350.59,248.16 352.16,247.96 353.73,247.76 355.30,247.56 356.87,247.36 358.45,247.17 360.02,246.97 361.59,246.78 363.16,246.58 364.73,246.39 366.31,246.20 367.88,246.01 369.45,245.82 371.02,245.63 372.59,245.44 374.17,245.25 375.74,245.06 377.31,244.88 378.88,244.69 380.45,244.51 382.03,244.33 383.60,244.14 385.17,243.96 386.74,243.78 388.31,243.60 389.88,243.42 391.46,243.24 393.03,243.06 394.60,242.89 396.17,242.71 397.74,242.53 399.32,242.36 400.89,242.19 402.46,242.01 404.03,241.84 405.60,241.67 407.18,241.50 408.75,241.33 410.32,241.16 411.89,240.99 413.46,240.82 415.04,240.65 416.61,240.48 418.18,240.32 419.75,240.15 421.32,239.99 422.89,239.82 424.47,239.66 426.04,239.49 427.61,239.33 429.18,239.17 430.75,239.01 432.33,238.85 433.90,238.69 435.47,238.53 437.04,238.37 438.61,238.21 440.19,238.05 441.76,237.90 443.33,237.74 444.90,237.58 446.47,237.43 448.05,237.28 449.62,237.12 451.19,236.97 452.76,236.82 454.33,236.66 455.90,236.51 457.48,236.36 459.05,236.21 460.62,236.06 462.19,235.91 463.76,235.76 465.34,235.61 466.91,235.46 468.48,235.32 470.05,235.17 471.62,235.02 473.20,234.88 474.77,234.73 476.34,234.59 477.91,234.44 479.48,234.30 481.06,234.16 482.63,234.02 484.20,233.87 485.77,233.73 487.34,233.59 488.91,233.45 490.49,233.31 492.06,233.17 493.63,233.03 495.20,232.89 496.77,232.75 498.35,232.62 499.92,232.48 501.49,232.34 503.06,232.20 504.63,232.07 506.21,231.93 507.78,231.80 509.35,231.66 510.92,231.53 512.49,231.40 514.07,231.26 515.64,231.13 517.21,231.00 518.78,230.86 520.35,230.73 521.92,230.60 523.50,230.47 525.07,230.34 526.64,230.21 528.21,230.08 529.78,229.95 531.36,229.82 532.93,229.70 534.50,229.57" fill="none" stroke="#ff0000" stroke-width="1.05" stroke-dasharray="5.9 2.2 1.0 2.2"/>
<path d="M64.50,298.00 66.07,295.16 67.64,285.83 69.22,276.55 70.79,267.34 72.36,258.25 73.93,249.31 75.50,240.55 77.08,232.00 78.65,223.66 80.22,215.55 81.79,207.68 83.36,200.04 84.93,192.64 86.51,185.47 88.08,178.52 89.65,171.79 91.22,165.26 92.79,158.94 94.37,152.81 95.94,146.86 97.51,141.09 99.08,135.48 100.65,130.03 102.23,124.73 103.80,119.57 105.37,114.55 106.94,109.66 108.51,104.89 110.09,100.23 111.66,95.69 113.23,91.25 114.80,86.91 116.37,82.67 117.94,78.52 119.52,74.46 121.09,70.48 122.66,66.59 124.23,62.77 125.80,59.02 127.38,55.34 128.95,51.74 130.52,48.19 132.09,44.71 133.66,41.29 135.24,37.93 136.81,34.63 138.38,31.38 139.95,28.18 141.52,25.03 143.10,21.92 144.67,18.87 146.24,15.86 147.81,12.90 149.38,9.97 150.95,7.09 152.53,4.25 154.10,1.44 155.67,-1.32 157.24,-4.06 158.81,-6.75 160.39,-9.41 161.96,-12.04 163.53,-14.64 165.10,-17.20 166.67,-19.74" fill="none" stroke="#ff00ff" stroke-width="1.15"/>
<path d="M64.50,298.00 66.07,276.19 67.64,259.00 69.22,242.17 70.79,225.90 72.36,210.33 73.93,195.54 75.50,181.55 77.08,168.33 78.65,155.86 80.22,144.08 81.79,132.94 83.36,122.39 84.93,112.37 86.51,102.84 88.08,93.76 89.65,85.08 91.22,76.77 92.79,68.81 94.37,61.15 95.94,53.78 97.51,46.68 99.08,39.83 100.65,33.20 102.23,26.79 103.80,20.57 105.37,14.54 106.94,8.69 108.51,2.99 110.09,-2.55 111.66,-7.95 113.23,-13.22 114.80,-18.36" fill="none" stroke="#ff00ff" stroke-width="1.05" stroke-dasharray="5.9 2.2 1.0 2.2"/></g>
<g stroke="#262626" stroke-width="1.2" fill="none"><rect x="64.5" y="10.5" width="470.0" height="372.0" fill="none"/><line x1="141.50" y1="382.5" x2="141.50" y2="377.8"/><line x1="141.50" y1="10.5" x2="141.50" y2="15.2"/><line x1="220.50" y1="382.5" x2="220.50" y2="377.8"/><line x1="220.50" y1="10.5" x2="220.50" y2="15.2"/><line x1="298.50" y1="382.5" x2="298.50" y2="377.8"/><line x1="298.50" y1="10.5" x2="298.50" y2="15.2"/><line x1="377.50" y1="382.5" x2="377.50" y2="377.8"/><line x1="377.50" y1="10.5" x2="377.50" y2="15.2"/><line x1="455.50" y1="382.5" x2="455.50" y2="377.8"/><line x1="455.50" y1="10.5" x2="455.50" y2="15.2"/><line x1="64.5" y1="344.50" x2="69.2" y2="344.50"/><line x1="534.5" y1="344.50" x2="529.8" y2="344.50"/><line x1="64.5" y1="288.83" x2="69.2" y2="288.83"/><line x1="534.5" y1="288.83" x2="529.8" y2="288.83"/><line x1="64.5" y1="233.17" x2="69.2" y2="233.17"/><line x1="534.5" y1="233.17" x2="529.8" y2="233.17"/><line x1="64.5" y1="177.50" x2="69.2" y2="177.50"/><line x1="534.5" y1="177.50" x2="529.8" y2="177.50"/><line x1="64.5" y1="121.83" x2="69.2" y2="121.83"/><line x1="534.5" y1="121.83" x2="529.8" y2="121.83"/><line x1="64.5" y1="66.17" x2="69.2" y2="66.17"/><line x1="534.5" y1="66.17" x2="529.8" y2="66.17"/></g>
<rect x="366.5" y="25.5" width="123" height="156" fill="#ffffff" stroke="#262626" stroke-width="1"/>
<line x1="371" y1="42.50" x2="414" y2="42.50" stroke="#0000ff" stroke-width="1.35"/>
<line x1="371" y1="73.20" x2="414" y2="73.20" stroke="#00ff00" stroke-width="1.35"/>
<line x1="371" y1="103.60" x2="414" y2="103.60" stroke="#000000" stroke-width="1.35"/>
<line x1="371" y1="134.50" x2="414" y2="134.50" stroke="#ff0000" stroke-width="1.35"/>
<line x1="371" y1="165.00" x2="414" y2="165.00" stroke="#ff00ff" stroke-width="1.35"/></g>
<g filter="url(#softt)"><g font-family="'Liberation Sans', Arial, Helvetica, sans-serif" font-size="15" fill="#262626" stroke="#262626" stroke-width="0.15"><text x="141.52" y="403.2" text-anchor="middle">50</text><text x="220.12" y="403.2" text-anchor="middle">100</text><text x="298.71" y="403.2" text-anchor="middle">150</text><text x="377.31" y="403.2" text-anchor="middle">200</text><text x="455.90" y="403.2" text-anchor="middle">250</text><text x="534.50" y="403.2" text-anchor="middle">300</text><text x="59.2" y="350.10" text-anchor="end">0.1</text><text x="59.2" y="294.43" text-anchor="end">0.15</text><text x="59.2" y="238.77" text-anchor="end">0.2</text><text x="59.2" y="183.10" text-anchor="end">0.25</text><text x="59.2" y="127.43" text-anchor="end">0.3</text><text x="59.2" y="71.77" text-anchor="end">0.35</text><text x="59.2" y="16.10" text-anchor="end">0.4</text></g>
<text x="299.5" y="427" text-anchor="middle" font-family="'Liberation Sans', Arial, Helvetica, sans-serif" font-size="18" letter-spacing="0.36" fill="#262626" stroke="#262626" stroke-width="0.15">Number of Iterations</text>
<text transform="translate(21,197) rotate(-90)" text-anchor="middle" font-family="'Liberation Sans', Arial, Helvetica, sans-serif" font-size="18" letter-spacing="0.5" fill="#262626" stroke="#262626" stroke-width="0.15">M-RRE</text>
<text x="425.3" y="46.50" font-family="'Liberation Serif', 'Times New Roman', serif" font-style="italic" font-size="17" fill="#262626" stroke="#262626" stroke-width="0.15">σ</text>
<text x="446.4" y="45.70" font-family="'Liberation Sans', Arial, Helvetica, sans-serif" font-size="17" fill="#000000" stroke="#000000" stroke-width="0.15">= 1.0</text>
<text x="425.3" y="77.15" font-family="'Liberation Serif', 'Times New Roman', serif" font-style="italic" font-size="17" fill="#262626" stroke="#262626" stroke-width="0.15">σ</text>
<text x="446.4" y="76.35" font-family="'Liberation Sans', Arial, Helvetica, sans-serif" font-size="17" fill="#000000" stroke="#000000" stroke-width="0.15">= 2.0</text>
<text x="425.3" y="107.80" font-family="'Liberation Serif', 'Times New Roman', serif" font-style="italic" font-size="17" fill="#262626" stroke="#262626" stroke-width="0.15">σ</text>
<text x="446.4" y="107.00" font-family="'Liberation Sans', Arial, Helvetica, sans-serif" font-size="17" fill="#000000" stroke="#000000" stroke-width="0.15">= 2.3</text>
<text x="425.3" y="138.45" font-family="'Liberation Serif', 'Times New Roman', serif" font-style="italic" font-size="17" fill="#262626" stroke="#262626" stroke-width="0.15">σ</text>
<text x="446.4" y="137.65" font-family="'Liberation Sans', Arial, Helvetica, sans-serif" font-size="17" fill="#000000" stroke="#000000" stroke-width="0.15">= 2.6</text>
<text x="425.3" y="169.10" font-family="'Liberation Serif', 'Times New Roman', serif" font-style="italic" font-size="17" fill="#262626" stroke="#262626" stroke-width="0.15">σ</text>
<text x="446.4" y="168.30" font-family="'Liberation Sans', Arial, Helvetica, sans-serif" font-size="17" fill="#000000" stroke="#000000" stroke-width="0.15">= 5.0</text></g></svg>
</body></html>
